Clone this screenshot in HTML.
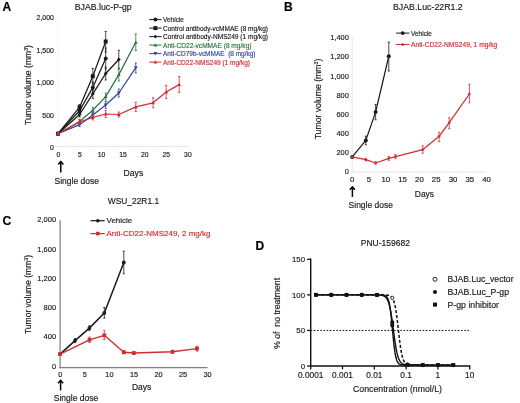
<!DOCTYPE html>
<html lang="en"><head><meta charset="utf-8"><title>Figure</title>
<style>html,body{margin:0;padding:0;background:#fff}svg{display:block}text{white-space:pre;stroke-width:0.16px}</style></head>
<body>
<svg width="520" height="403" viewBox="0 0 520 403" font-family='"Liberation Sans", Arial, Helvetica, sans-serif'>
<rect width="520" height="403" fill="#fff"/>
<g id="panelA">
<text x="2.6" y="11.0" font-size="12" fill="#000" stroke="#000" font-weight="bold">A</text>
<text x="74.7" y="9.8" font-size="8.8" fill="#1a1a1a" stroke="#1a1a1a" textLength="57" lengthAdjust="spacingAndGlyphs">BJAB.luc-P-gp</text>
<line x1="58.00" y1="17.00" x2="58.00" y2="146.80" stroke="#f1f1f1" stroke-width="0.8"/>
<line x1="55.00" y1="146.40" x2="188.50" y2="146.40" stroke="#d4d4d4" stroke-width="0.9" stroke-dasharray="1.4,0.7"/>
<text x="53.8" y="20.0" font-size="6.9" fill="#1a1a1a" stroke="#1a1a1a" text-anchor="end">2,000</text>
<line x1="55.50" y1="17.50" x2="58.00" y2="17.50" stroke="#f1f1f1" stroke-width="0.8"/>
<text x="53.8" y="52.5" font-size="6.9" fill="#1a1a1a" stroke="#1a1a1a" text-anchor="end">1,500</text>
<line x1="55.50" y1="50.00" x2="58.00" y2="50.00" stroke="#f1f1f1" stroke-width="0.8"/>
<text x="53.8" y="85.0" font-size="6.9" fill="#1a1a1a" stroke="#1a1a1a" text-anchor="end">1,000</text>
<line x1="55.50" y1="82.50" x2="58.00" y2="82.50" stroke="#f1f1f1" stroke-width="0.8"/>
<text x="53.8" y="117.5" font-size="6.9" fill="#1a1a1a" stroke="#1a1a1a" text-anchor="end">500</text>
<line x1="55.50" y1="115.00" x2="58.00" y2="115.00" stroke="#f1f1f1" stroke-width="0.8"/>
<text x="53.8" y="149.8" font-size="6.9" fill="#1a1a1a" stroke="#1a1a1a" text-anchor="end">0</text>
<line x1="55.50" y1="147.30" x2="58.00" y2="147.30" stroke="#f1f1f1" stroke-width="0.8"/>
<text x="58.3" y="157.1" font-size="6.8" fill="#1a1a1a" stroke="#1a1a1a" text-anchor="middle">0</text>
<text x="79.9" y="157.1" font-size="6.8" fill="#1a1a1a" stroke="#1a1a1a" text-anchor="middle">5</text>
<text x="101.5" y="157.1" font-size="6.8" fill="#1a1a1a" stroke="#1a1a1a" text-anchor="middle">10</text>
<text x="123.10000000000001" y="157.1" font-size="6.8" fill="#1a1a1a" stroke="#1a1a1a" text-anchor="middle">15</text>
<text x="144.7" y="157.1" font-size="6.8" fill="#1a1a1a" stroke="#1a1a1a" text-anchor="middle">20</text>
<text x="166.3" y="157.1" font-size="6.8" fill="#1a1a1a" stroke="#1a1a1a" text-anchor="middle">25</text>
<text x="187.90000000000003" y="157.1" font-size="6.8" fill="#1a1a1a" stroke="#1a1a1a" text-anchor="middle">30</text>
<text x="30.8" y="85" font-size="8.2" fill="#1a1a1a" stroke="#1a1a1a" text-anchor="middle" textLength="80" lengthAdjust="spacingAndGlyphs" transform="rotate(-90 30.8 85)">Tumor volume (mm<tspan font-size="5" dy="-2.8">3</tspan><tspan dy="2.8">)</tspan></text>
<text x="123.6" y="175.8" font-size="8.6" fill="#1a1a1a" stroke="#1a1a1a" textLength="19.6" lengthAdjust="spacingAndGlyphs">Days</text>
<line x1="60.80" y1="162.00" x2="60.80" y2="172.50" stroke="#000" stroke-width="1.5"/>
<polyline points="58.20,164.40 60.80,161.60 63.40,164.40" fill="none" stroke="#000" stroke-width="1.5" stroke-linejoin="miter"/>
<text x="54.5" y="183.7" font-size="8.5" fill="#1a1a1a" stroke="#1a1a1a" textLength="44.5" lengthAdjust="spacingAndGlyphs">Single dose</text>
<line x1="79.60" y1="104.50" x2="79.60" y2="110.00" stroke="#1a1a1a" stroke-width="0.8"/>
<line x1="78.50" y1="104.50" x2="80.70" y2="104.50" stroke="#1a1a1a" stroke-width="0.8"/>
<line x1="78.50" y1="110.00" x2="80.70" y2="110.00" stroke="#1a1a1a" stroke-width="0.8"/>
<line x1="92.80" y1="68.50" x2="92.80" y2="84.00" stroke="#1a1a1a" stroke-width="0.8"/>
<line x1="91.70" y1="68.50" x2="93.90" y2="68.50" stroke="#1a1a1a" stroke-width="0.8"/>
<line x1="91.70" y1="84.00" x2="93.90" y2="84.00" stroke="#1a1a1a" stroke-width="0.8"/>
<line x1="105.70" y1="31.50" x2="105.70" y2="52.00" stroke="#1a1a1a" stroke-width="0.8"/>
<line x1="104.60" y1="31.50" x2="106.80" y2="31.50" stroke="#1a1a1a" stroke-width="0.8"/>
<line x1="104.60" y1="52.00" x2="106.80" y2="52.00" stroke="#1a1a1a" stroke-width="0.8"/>
<polyline points="58.00,133.70 79.60,107.20 92.80,76.20 105.70,41.50" fill="none" stroke="#1a1a1a" stroke-width="1.25" stroke-linejoin="round"/>
<rect x="56.00" y="131.70" width="4.0" height="4.0" fill="#1a1a1a"/>
<rect x="77.60" y="105.20" width="4.0" height="4.0" fill="#1a1a1a"/>
<rect x="90.80" y="74.20" width="4.0" height="4.0" fill="#1a1a1a"/>
<rect x="103.70" y="39.50" width="4.0" height="4.0" fill="#1a1a1a"/>
<line x1="79.60" y1="108.00" x2="79.60" y2="113.50" stroke="#1a1a1a" stroke-width="0.8"/>
<line x1="78.50" y1="108.00" x2="80.70" y2="108.00" stroke="#1a1a1a" stroke-width="0.8"/>
<line x1="78.50" y1="113.50" x2="80.70" y2="113.50" stroke="#1a1a1a" stroke-width="0.8"/>
<line x1="92.80" y1="82.00" x2="92.80" y2="93.00" stroke="#1a1a1a" stroke-width="0.8"/>
<line x1="91.70" y1="82.00" x2="93.90" y2="82.00" stroke="#1a1a1a" stroke-width="0.8"/>
<line x1="91.70" y1="93.00" x2="93.90" y2="93.00" stroke="#1a1a1a" stroke-width="0.8"/>
<line x1="105.70" y1="48.00" x2="105.70" y2="69.00" stroke="#1a1a1a" stroke-width="0.8"/>
<line x1="104.60" y1="48.00" x2="106.80" y2="48.00" stroke="#1a1a1a" stroke-width="0.8"/>
<line x1="104.60" y1="69.00" x2="106.80" y2="69.00" stroke="#1a1a1a" stroke-width="0.8"/>
<polyline points="58.00,133.70 79.60,110.80 92.80,87.40 105.70,58.50" fill="none" stroke="#1a1a1a" stroke-width="1.25" stroke-linejoin="round"/>
<circle cx="58.00" cy="133.70" r="2.0" fill="#1a1a1a"/>
<circle cx="79.60" cy="110.80" r="2.0" fill="#1a1a1a"/>
<circle cx="92.80" cy="87.40" r="2.0" fill="#1a1a1a"/>
<circle cx="105.70" cy="58.50" r="2.0" fill="#1a1a1a"/>
<line x1="79.60" y1="112.00" x2="79.60" y2="117.00" stroke="#1a1a1a" stroke-width="0.8"/>
<line x1="78.50" y1="112.00" x2="80.70" y2="112.00" stroke="#1a1a1a" stroke-width="0.8"/>
<line x1="78.50" y1="117.00" x2="80.70" y2="117.00" stroke="#1a1a1a" stroke-width="0.8"/>
<line x1="92.80" y1="89.00" x2="92.80" y2="98.50" stroke="#1a1a1a" stroke-width="0.8"/>
<line x1="91.70" y1="89.00" x2="93.90" y2="89.00" stroke="#1a1a1a" stroke-width="0.8"/>
<line x1="91.70" y1="98.50" x2="93.90" y2="98.50" stroke="#1a1a1a" stroke-width="0.8"/>
<line x1="105.70" y1="67.00" x2="105.70" y2="80.00" stroke="#1a1a1a" stroke-width="0.8"/>
<line x1="104.60" y1="67.00" x2="106.80" y2="67.00" stroke="#1a1a1a" stroke-width="0.8"/>
<line x1="104.60" y1="80.00" x2="106.80" y2="80.00" stroke="#1a1a1a" stroke-width="0.8"/>
<line x1="118.80" y1="50.30" x2="118.80" y2="69.00" stroke="#1a1a1a" stroke-width="0.8"/>
<line x1="117.70" y1="50.30" x2="119.90" y2="50.30" stroke="#1a1a1a" stroke-width="0.8"/>
<line x1="117.70" y1="69.00" x2="119.90" y2="69.00" stroke="#1a1a1a" stroke-width="0.8"/>
<polyline points="58.00,133.70 79.60,114.50 92.80,93.80 105.70,73.50 118.80,59.50" fill="none" stroke="#1a1a1a" stroke-width="1.25" stroke-linejoin="round"/>
<polygon points="58.00,131.80 59.90,133.70 58.00,135.60 56.10,133.70" fill="#1a1a1a"/>
<polygon points="79.60,112.60 81.50,114.50 79.60,116.40 77.70,114.50" fill="#1a1a1a"/>
<polygon points="92.80,91.90 94.70,93.80 92.80,95.70 90.90,93.80" fill="#1a1a1a"/>
<polygon points="105.70,71.60 107.60,73.50 105.70,75.40 103.80,73.50" fill="#1a1a1a"/>
<polygon points="118.80,57.60 120.70,59.50 118.80,61.40 116.90,59.50" fill="#1a1a1a"/>
<line x1="79.60" y1="119.50" x2="79.60" y2="123.50" stroke="#2e7443" stroke-width="0.8"/>
<line x1="78.50" y1="119.50" x2="80.70" y2="119.50" stroke="#2e7443" stroke-width="0.8"/>
<line x1="78.50" y1="123.50" x2="80.70" y2="123.50" stroke="#2e7443" stroke-width="0.8"/>
<line x1="92.80" y1="107.50" x2="92.80" y2="113.00" stroke="#2e7443" stroke-width="0.8"/>
<line x1="91.70" y1="107.50" x2="93.90" y2="107.50" stroke="#2e7443" stroke-width="0.8"/>
<line x1="91.70" y1="113.00" x2="93.90" y2="113.00" stroke="#2e7443" stroke-width="0.8"/>
<line x1="105.70" y1="93.00" x2="105.70" y2="100.00" stroke="#2e7443" stroke-width="0.8"/>
<line x1="104.60" y1="93.00" x2="106.80" y2="93.00" stroke="#2e7443" stroke-width="0.8"/>
<line x1="104.60" y1="100.00" x2="106.80" y2="100.00" stroke="#2e7443" stroke-width="0.8"/>
<line x1="118.80" y1="68.00" x2="118.80" y2="81.00" stroke="#2e7443" stroke-width="0.8"/>
<line x1="117.70" y1="68.00" x2="119.90" y2="68.00" stroke="#2e7443" stroke-width="0.8"/>
<line x1="117.70" y1="81.00" x2="119.90" y2="81.00" stroke="#2e7443" stroke-width="0.8"/>
<line x1="135.80" y1="33.80" x2="135.80" y2="50.50" stroke="#2e7443" stroke-width="0.8"/>
<line x1="134.70" y1="33.80" x2="136.90" y2="33.80" stroke="#2e7443" stroke-width="0.8"/>
<line x1="134.70" y1="50.50" x2="136.90" y2="50.50" stroke="#2e7443" stroke-width="0.8"/>
<polyline points="58.00,133.70 79.60,121.50 92.80,110.30 105.70,96.60 118.80,74.60 135.80,42.30" fill="none" stroke="#2e7443" stroke-width="1.25" stroke-linejoin="round"/>
<polygon points="58.00,131.80 59.90,135.22 56.10,135.22" fill="#2e7443"/>
<polygon points="79.60,119.60 81.50,123.02 77.70,123.02" fill="#2e7443"/>
<polygon points="92.80,108.40 94.70,111.82 90.90,111.82" fill="#2e7443"/>
<polygon points="105.70,94.70 107.60,98.12 103.80,98.12" fill="#2e7443"/>
<polygon points="118.80,72.70 120.70,76.12 116.90,76.12" fill="#2e7443"/>
<polygon points="135.80,40.40 137.70,43.82 133.90,43.82" fill="#2e7443"/>
<line x1="79.60" y1="123.00" x2="79.60" y2="126.50" stroke="#36459b" stroke-width="0.8"/>
<line x1="78.50" y1="123.00" x2="80.70" y2="123.00" stroke="#36459b" stroke-width="0.8"/>
<line x1="78.50" y1="126.50" x2="80.70" y2="126.50" stroke="#36459b" stroke-width="0.8"/>
<line x1="92.80" y1="112.50" x2="92.80" y2="117.50" stroke="#36459b" stroke-width="0.8"/>
<line x1="91.70" y1="112.50" x2="93.90" y2="112.50" stroke="#36459b" stroke-width="0.8"/>
<line x1="91.70" y1="117.50" x2="93.90" y2="117.50" stroke="#36459b" stroke-width="0.8"/>
<line x1="105.70" y1="101.50" x2="105.70" y2="108.50" stroke="#36459b" stroke-width="0.8"/>
<line x1="104.60" y1="101.50" x2="106.80" y2="101.50" stroke="#36459b" stroke-width="0.8"/>
<line x1="104.60" y1="108.50" x2="106.80" y2="108.50" stroke="#36459b" stroke-width="0.8"/>
<line x1="118.80" y1="89.00" x2="118.80" y2="97.00" stroke="#36459b" stroke-width="0.8"/>
<line x1="117.70" y1="89.00" x2="119.90" y2="89.00" stroke="#36459b" stroke-width="0.8"/>
<line x1="117.70" y1="97.00" x2="119.90" y2="97.00" stroke="#36459b" stroke-width="0.8"/>
<line x1="135.80" y1="63.00" x2="135.80" y2="73.00" stroke="#36459b" stroke-width="0.8"/>
<line x1="134.70" y1="63.00" x2="136.90" y2="63.00" stroke="#36459b" stroke-width="0.8"/>
<line x1="134.70" y1="73.00" x2="136.90" y2="73.00" stroke="#36459b" stroke-width="0.8"/>
<polyline points="58.00,133.70 79.60,124.70 92.80,115.00 105.70,105.00 118.80,93.00 135.80,67.70" fill="none" stroke="#36459b" stroke-width="1.25" stroke-linejoin="round"/>
<polygon points="58.00,135.60 59.90,132.18 56.10,132.18" fill="#36459b"/>
<polygon points="79.60,126.60 81.50,123.18 77.70,123.18" fill="#36459b"/>
<polygon points="92.80,116.90 94.70,113.48 90.90,113.48" fill="#36459b"/>
<polygon points="105.70,106.90 107.60,103.48 103.80,103.48" fill="#36459b"/>
<polygon points="118.80,94.90 120.70,91.48 116.90,91.48" fill="#36459b"/>
<polygon points="135.80,69.60 137.70,66.18 133.90,66.18" fill="#36459b"/>
<line x1="79.60" y1="120.00" x2="79.60" y2="124.00" stroke="#cf2e32" stroke-width="0.8"/>
<line x1="78.50" y1="120.00" x2="80.70" y2="120.00" stroke="#cf2e32" stroke-width="0.8"/>
<line x1="78.50" y1="124.00" x2="80.70" y2="124.00" stroke="#cf2e32" stroke-width="0.8"/>
<line x1="92.80" y1="115.00" x2="92.80" y2="120.00" stroke="#cf2e32" stroke-width="0.8"/>
<line x1="91.70" y1="115.00" x2="93.90" y2="115.00" stroke="#cf2e32" stroke-width="0.8"/>
<line x1="91.70" y1="120.00" x2="93.90" y2="120.00" stroke="#cf2e32" stroke-width="0.8"/>
<line x1="105.70" y1="110.50" x2="105.70" y2="117.50" stroke="#cf2e32" stroke-width="0.8"/>
<line x1="104.60" y1="110.50" x2="106.80" y2="110.50" stroke="#cf2e32" stroke-width="0.8"/>
<line x1="104.60" y1="117.50" x2="106.80" y2="117.50" stroke="#cf2e32" stroke-width="0.8"/>
<line x1="118.80" y1="112.00" x2="118.80" y2="117.00" stroke="#cf2e32" stroke-width="0.8"/>
<line x1="117.70" y1="112.00" x2="119.90" y2="112.00" stroke="#cf2e32" stroke-width="0.8"/>
<line x1="117.70" y1="117.00" x2="119.90" y2="117.00" stroke="#cf2e32" stroke-width="0.8"/>
<line x1="135.80" y1="102.30" x2="135.80" y2="111.50" stroke="#cf2e32" stroke-width="0.8"/>
<line x1="134.70" y1="102.30" x2="136.90" y2="102.30" stroke="#cf2e32" stroke-width="0.8"/>
<line x1="134.70" y1="111.50" x2="136.90" y2="111.50" stroke="#cf2e32" stroke-width="0.8"/>
<line x1="153.10" y1="97.70" x2="153.10" y2="107.70" stroke="#cf2e32" stroke-width="0.8"/>
<line x1="152.00" y1="97.70" x2="154.20" y2="97.70" stroke="#cf2e32" stroke-width="0.8"/>
<line x1="152.00" y1="107.70" x2="154.20" y2="107.70" stroke="#cf2e32" stroke-width="0.8"/>
<line x1="166.20" y1="85.40" x2="166.20" y2="98.50" stroke="#cf2e32" stroke-width="0.8"/>
<line x1="165.10" y1="85.40" x2="167.30" y2="85.40" stroke="#cf2e32" stroke-width="0.8"/>
<line x1="165.10" y1="98.50" x2="167.30" y2="98.50" stroke="#cf2e32" stroke-width="0.8"/>
<line x1="179.20" y1="76.50" x2="179.20" y2="92.50" stroke="#cf2e32" stroke-width="0.8"/>
<line x1="178.10" y1="76.50" x2="180.30" y2="76.50" stroke="#cf2e32" stroke-width="0.8"/>
<line x1="178.10" y1="92.50" x2="180.30" y2="92.50" stroke="#cf2e32" stroke-width="0.8"/>
<polyline points="58.00,133.70 79.60,122.00 92.80,117.40 105.70,114.00 118.80,114.50 135.80,106.90 153.10,102.80 166.20,92.00 179.20,84.60" fill="none" stroke="#cf2e32" stroke-width="1.25" stroke-linejoin="round"/>
<polygon points="58.00,131.80 59.90,135.22 56.10,135.22" fill="#cf2e32"/>
<polygon points="79.60,120.10 81.50,123.52 77.70,123.52" fill="#cf2e32"/>
<polygon points="92.80,115.50 94.70,118.92 90.90,118.92" fill="#cf2e32"/>
<polygon points="105.70,112.10 107.60,115.52 103.80,115.52" fill="#cf2e32"/>
<polygon points="118.80,112.60 120.70,116.02 116.90,116.02" fill="#cf2e32"/>
<polygon points="135.80,105.00 137.70,108.42 133.90,108.42" fill="#cf2e32"/>
<polygon points="153.10,100.90 155.00,104.32 151.20,104.32" fill="#cf2e32"/>
<polygon points="166.20,90.10 168.10,93.52 164.30,93.52" fill="#cf2e32"/>
<polygon points="179.20,82.70 181.10,86.12 177.30,86.12" fill="#cf2e32"/>
<line x1="149.20" y1="19.60" x2="161.50" y2="19.60" stroke="#1a1a1a" stroke-width="1.0"/>
<circle cx="155.40" cy="19.60" r="2.0" fill="#1a1a1a"/>
<text x="163.0" y="22.0" font-size="6.9" fill="#1a1a1a" stroke="#1a1a1a" textLength="21.0" lengthAdjust="spacingAndGlyphs">Vehicle</text>
<line x1="149.20" y1="28.10" x2="161.50" y2="28.10" stroke="#1a1a1a" stroke-width="1.0"/>
<rect x="153.40" y="26.10" width="4.0" height="4.0" fill="#1a1a1a"/>
<text x="163.0" y="30.5" font-size="6.9" fill="#1a1a1a" stroke="#1a1a1a" textLength="105.0" lengthAdjust="spacingAndGlyphs">Control antibody-vcMMAE (8 mg/kg)</text>
<line x1="149.20" y1="36.60" x2="161.50" y2="36.60" stroke="#1a1a1a" stroke-width="1.0"/>
<polygon points="155.40,34.70 157.30,36.60 155.40,38.50 153.50,36.60" fill="#1a1a1a"/>
<text x="163.0" y="39.0" font-size="6.9" fill="#1a1a1a" stroke="#1a1a1a" textLength="105.0" lengthAdjust="spacingAndGlyphs">Control antibody-NMS249 (1 mg/kg)</text>
<line x1="149.20" y1="45.10" x2="161.50" y2="45.10" stroke="#2e7443" stroke-width="1.0"/>
<polygon points="155.40,43.20 157.30,46.62 153.50,46.62" fill="#2e7443"/>
<text x="163.0" y="47.5" font-size="6.9" fill="#2e7443" stroke="#2e7443" textLength="88.5" lengthAdjust="spacingAndGlyphs">Anti-CD22-vcMMAE (8 mg/kg)</text>
<line x1="149.20" y1="53.60" x2="161.50" y2="53.60" stroke="#36459b" stroke-width="1.0"/>
<polygon points="155.40,55.50 157.30,52.08 153.50,52.08" fill="#36459b"/>
<text x="163.0" y="56.0" font-size="6.9" fill="#36459b" stroke="#36459b" textLength="92.5" lengthAdjust="spacingAndGlyphs">Anti-CD79b-vcMMAE  (8 mg/kg)</text>
<line x1="149.20" y1="62.10" x2="161.50" y2="62.10" stroke="#cf2e32" stroke-width="1.0"/>
<polygon points="155.40,60.20 157.30,63.62 153.50,63.62" fill="#cf2e32"/>
<text x="163.0" y="64.5" font-size="6.9" fill="#cf2e32" stroke="#cf2e32" textLength="87.0" lengthAdjust="spacingAndGlyphs">Anti-CD22-NMS249 (1 mg/kg)</text>
</g>
<g id="panelB">
<text x="284.0" y="10.9" font-size="12" fill="#000" stroke="#000" font-weight="bold">B</text>
<text x="393" y="10.4" font-size="8.7" fill="#1a1a1a" stroke="#1a1a1a" textLength="69.7" lengthAdjust="spacingAndGlyphs">BJAB.Luc-22R1.2</text>
<line x1="352.20" y1="37.70" x2="352.20" y2="172.00" stroke="#d4d4d4" stroke-width="0.9" stroke-dasharray="1.4,0.7"/>
<line x1="352.20" y1="172.00" x2="486.70" y2="172.00" stroke="#d4d4d4" stroke-width="0.9" stroke-dasharray="1.4,0.7"/>
<text x="348.8" y="174.2" font-size="7.4" fill="#1a1a1a" stroke="#1a1a1a" text-anchor="end">0</text>
<text x="348.8" y="155.06" font-size="7.4" fill="#1a1a1a" stroke="#1a1a1a" text-anchor="end">200</text>
<text x="348.8" y="135.92" font-size="7.4" fill="#1a1a1a" stroke="#1a1a1a" text-anchor="end">400</text>
<text x="348.8" y="116.78000000000002" font-size="7.4" fill="#1a1a1a" stroke="#1a1a1a" text-anchor="end">600</text>
<text x="348.8" y="97.64000000000001" font-size="7.4" fill="#1a1a1a" stroke="#1a1a1a" text-anchor="end">800</text>
<text x="348.8" y="78.50000000000001" font-size="7.4" fill="#1a1a1a" stroke="#1a1a1a" text-anchor="end">1,000</text>
<text x="348.8" y="59.360000000000014" font-size="7.4" fill="#1a1a1a" stroke="#1a1a1a" text-anchor="end">1,200</text>
<text x="348.8" y="40.22000000000001" font-size="7.4" fill="#1a1a1a" stroke="#1a1a1a" text-anchor="end">1,400</text>
<text x="352.2" y="182.4" font-size="7.8" fill="#1a1a1a" stroke="#1a1a1a" text-anchor="middle">0</text>
<text x="369.0" y="182.4" font-size="7.8" fill="#1a1a1a" stroke="#1a1a1a" text-anchor="middle">5</text>
<text x="385.8" y="182.4" font-size="7.8" fill="#1a1a1a" stroke="#1a1a1a" text-anchor="middle">10</text>
<text x="402.59999999999997" y="182.4" font-size="7.8" fill="#1a1a1a" stroke="#1a1a1a" text-anchor="middle">15</text>
<text x="419.4" y="182.4" font-size="7.8" fill="#1a1a1a" stroke="#1a1a1a" text-anchor="middle">20</text>
<text x="436.2" y="182.4" font-size="7.8" fill="#1a1a1a" stroke="#1a1a1a" text-anchor="middle">25</text>
<text x="453.0" y="182.4" font-size="7.8" fill="#1a1a1a" stroke="#1a1a1a" text-anchor="middle">30</text>
<text x="469.79999999999995" y="182.4" font-size="7.8" fill="#1a1a1a" stroke="#1a1a1a" text-anchor="middle">35</text>
<text x="486.6" y="182.4" font-size="7.8" fill="#1a1a1a" stroke="#1a1a1a" text-anchor="middle">40</text>
<text x="321.3" y="99" font-size="8.2" fill="#1a1a1a" stroke="#1a1a1a" text-anchor="middle" textLength="80.7" lengthAdjust="spacingAndGlyphs" transform="rotate(-90 321.3 99)">Tumor volume (mm<tspan font-size="5" dy="-2.8">3</tspan><tspan dy="2.8">)</tspan></text>
<text x="414.8" y="196.8" font-size="8.6" fill="#1a1a1a" stroke="#1a1a1a" textLength="19.2" lengthAdjust="spacingAndGlyphs">Days</text>
<line x1="352.40" y1="187.30" x2="352.40" y2="196.90" stroke="#000" stroke-width="1.5"/>
<polyline points="349.80,189.70 352.40,186.90 355.00,189.70" fill="none" stroke="#000" stroke-width="1.5" stroke-linejoin="miter"/>
<text x="348.6" y="207.8" font-size="8.5" fill="#1a1a1a" stroke="#1a1a1a" textLength="44.3" lengthAdjust="spacingAndGlyphs">Single dose</text>
<line x1="365.80" y1="136.20" x2="365.80" y2="144.80" stroke="#1a1a1a" stroke-width="0.8"/>
<line x1="364.70" y1="136.20" x2="366.90" y2="136.20" stroke="#1a1a1a" stroke-width="0.8"/>
<line x1="364.70" y1="144.80" x2="366.90" y2="144.80" stroke="#1a1a1a" stroke-width="0.8"/>
<line x1="375.60" y1="104.40" x2="375.60" y2="119.80" stroke="#1a1a1a" stroke-width="0.8"/>
<line x1="374.50" y1="104.40" x2="376.70" y2="104.40" stroke="#1a1a1a" stroke-width="0.8"/>
<line x1="374.50" y1="119.80" x2="376.70" y2="119.80" stroke="#1a1a1a" stroke-width="0.8"/>
<line x1="388.80" y1="42.10" x2="388.80" y2="71.00" stroke="#1a1a1a" stroke-width="0.8"/>
<line x1="387.70" y1="42.10" x2="389.90" y2="42.10" stroke="#1a1a1a" stroke-width="0.8"/>
<line x1="387.70" y1="71.00" x2="389.90" y2="71.00" stroke="#1a1a1a" stroke-width="0.8"/>
<polyline points="352.20,156.90 365.80,140.40 375.60,112.10 388.80,56.20" fill="none" stroke="#1a1a1a" stroke-width="1.25" stroke-linejoin="round"/>
<circle cx="352.20" cy="156.90" r="2.0" fill="#1a1a1a"/>
<circle cx="365.80" cy="140.40" r="2.0" fill="#1a1a1a"/>
<circle cx="375.60" cy="112.10" r="2.0" fill="#1a1a1a"/>
<circle cx="388.80" cy="56.20" r="2.0" fill="#1a1a1a"/>
<line x1="365.80" y1="158.30" x2="365.80" y2="160.90" stroke="#cf2e32" stroke-width="0.8"/>
<line x1="364.70" y1="158.30" x2="366.90" y2="158.30" stroke="#cf2e32" stroke-width="0.8"/>
<line x1="364.70" y1="160.90" x2="366.90" y2="160.90" stroke="#cf2e32" stroke-width="0.8"/>
<line x1="375.60" y1="161.80" x2="375.60" y2="164.20" stroke="#cf2e32" stroke-width="0.8"/>
<line x1="374.50" y1="161.80" x2="376.70" y2="161.80" stroke="#cf2e32" stroke-width="0.8"/>
<line x1="374.50" y1="164.20" x2="376.70" y2="164.20" stroke="#cf2e32" stroke-width="0.8"/>
<line x1="388.80" y1="156.30" x2="388.80" y2="160.30" stroke="#cf2e32" stroke-width="0.8"/>
<line x1="387.70" y1="156.30" x2="389.90" y2="156.30" stroke="#cf2e32" stroke-width="0.8"/>
<line x1="387.70" y1="160.30" x2="389.90" y2="160.30" stroke="#cf2e32" stroke-width="0.8"/>
<line x1="395.50" y1="154.60" x2="395.50" y2="158.60" stroke="#cf2e32" stroke-width="0.8"/>
<line x1="394.40" y1="154.60" x2="396.60" y2="154.60" stroke="#cf2e32" stroke-width="0.8"/>
<line x1="394.40" y1="158.60" x2="396.60" y2="158.60" stroke="#cf2e32" stroke-width="0.8"/>
<line x1="422.70" y1="145.90" x2="422.70" y2="153.20" stroke="#cf2e32" stroke-width="0.8"/>
<line x1="421.60" y1="145.90" x2="423.80" y2="145.90" stroke="#cf2e32" stroke-width="0.8"/>
<line x1="421.60" y1="153.20" x2="423.80" y2="153.20" stroke="#cf2e32" stroke-width="0.8"/>
<line x1="439.10" y1="132.20" x2="439.10" y2="141.50" stroke="#cf2e32" stroke-width="0.8"/>
<line x1="438.00" y1="132.20" x2="440.20" y2="132.20" stroke="#cf2e32" stroke-width="0.8"/>
<line x1="438.00" y1="141.50" x2="440.20" y2="141.50" stroke="#cf2e32" stroke-width="0.8"/>
<line x1="449.20" y1="117.80" x2="449.20" y2="128.70" stroke="#cf2e32" stroke-width="0.8"/>
<line x1="448.10" y1="117.80" x2="450.30" y2="117.80" stroke="#cf2e32" stroke-width="0.8"/>
<line x1="448.10" y1="128.70" x2="450.30" y2="128.70" stroke="#cf2e32" stroke-width="0.8"/>
<line x1="469.40" y1="84.20" x2="469.40" y2="102.80" stroke="#cf2e32" stroke-width="0.8"/>
<line x1="468.30" y1="84.20" x2="470.50" y2="84.20" stroke="#cf2e32" stroke-width="0.8"/>
<line x1="468.30" y1="102.80" x2="470.50" y2="102.80" stroke="#cf2e32" stroke-width="0.8"/>
<polyline points="352.20,156.90 365.80,159.60 375.60,163.00 388.80,158.30 395.50,156.60 422.70,149.70 439.10,136.30 449.20,122.70 469.40,94.00" fill="none" stroke="#cf2e32" stroke-width="1.25" stroke-linejoin="round"/>
<circle cx="352.20" cy="156.90" r="1.3" fill="#cf2e32"/>
<circle cx="365.80" cy="159.60" r="1.3" fill="#cf2e32"/>
<circle cx="375.60" cy="163.00" r="1.3" fill="#cf2e32"/>
<circle cx="388.80" cy="158.30" r="1.3" fill="#cf2e32"/>
<circle cx="395.50" cy="156.60" r="1.3" fill="#cf2e32"/>
<circle cx="422.70" cy="149.70" r="1.3" fill="#cf2e32"/>
<circle cx="439.10" cy="136.30" r="1.3" fill="#cf2e32"/>
<circle cx="449.20" cy="122.70" r="1.3" fill="#cf2e32"/>
<circle cx="469.40" cy="94.00" r="1.3" fill="#cf2e32"/>
<line x1="395.90" y1="33.10" x2="409.50" y2="33.10" stroke="#1a1a1a" stroke-width="1.0"/>
<circle cx="402.70" cy="33.10" r="1.9" fill="#1a1a1a"/>
<text x="411" y="35.6" font-size="7" fill="#1a1a1a" stroke="#1a1a1a" textLength="21" lengthAdjust="spacingAndGlyphs">Vehicle</text>
<line x1="395.90" y1="44.50" x2="409.50" y2="44.50" stroke="#cf2e32" stroke-width="1.0"/>
<circle cx="402.70" cy="44.50" r="1.3" fill="#a3262b"/>
<text x="411" y="47.0" font-size="7" fill="#cf2e32" stroke="#cf2e32" textLength="86.3" lengthAdjust="spacingAndGlyphs">Anti-CD22-NMS249, 1 mg/kg</text>
</g>
<g id="panelC">
<text x="2.4" y="224.7" font-size="12.2" fill="#000" stroke="#000" font-weight="bold">C</text>
<text x="107.8" y="203.8" font-size="8.8" fill="#1a1a1a" stroke="#1a1a1a" textLength="51.3" lengthAdjust="spacingAndGlyphs">WSU_22R1.1</text>
<line x1="60.10" y1="220.30" x2="60.10" y2="368.20" stroke="#7d7d7d" stroke-width="1.2"/>
<line x1="59.50" y1="367.60" x2="207.50" y2="367.60" stroke="#7d7d7d" stroke-width="1.2"/>
<text x="56.1" y="368.8" font-size="7.5" fill="#1a1a1a" stroke="#1a1a1a" text-anchor="end">0</text>
<text x="56.1" y="339.47999999999996" font-size="7.5" fill="#1a1a1a" stroke="#1a1a1a" text-anchor="end">400</text>
<text x="56.1" y="310.16" font-size="7.5" fill="#1a1a1a" stroke="#1a1a1a" text-anchor="end">800</text>
<text x="56.1" y="280.84" font-size="7.5" fill="#1a1a1a" stroke="#1a1a1a" text-anchor="end">1,200</text>
<text x="56.1" y="251.51999999999998" font-size="7.5" fill="#1a1a1a" stroke="#1a1a1a" text-anchor="end">1,600</text>
<text x="56.1" y="222.2" font-size="7.5" fill="#1a1a1a" stroke="#1a1a1a" text-anchor="end">2,000</text>
<text x="60.300000000000004" y="377.0" font-size="7.3" fill="#1a1a1a" stroke="#1a1a1a" text-anchor="middle">0</text>
<text x="84.85000000000001" y="377.0" font-size="7.3" fill="#1a1a1a" stroke="#1a1a1a" text-anchor="middle">5</text>
<text x="109.4" y="377.0" font-size="7.3" fill="#1a1a1a" stroke="#1a1a1a" text-anchor="middle">10</text>
<text x="133.95" y="377.0" font-size="7.3" fill="#1a1a1a" stroke="#1a1a1a" text-anchor="middle">15</text>
<text x="158.5" y="377.0" font-size="7.3" fill="#1a1a1a" stroke="#1a1a1a" text-anchor="middle">20</text>
<text x="183.04999999999998" y="377.0" font-size="7.3" fill="#1a1a1a" stroke="#1a1a1a" text-anchor="middle">25</text>
<text x="207.6" y="377.0" font-size="7.3" fill="#1a1a1a" stroke="#1a1a1a" text-anchor="middle">30</text>
<text x="31.4" y="294.5" font-size="8.3" fill="#1a1a1a" stroke="#1a1a1a" text-anchor="middle" textLength="79" lengthAdjust="spacingAndGlyphs" transform="rotate(-90 31.4 294.5)">Tumor volume (mm<tspan font-size="5.2" dy="-2.9">3</tspan><tspan dy="2.9">)</tspan></text>
<text x="132" y="390" font-size="8.6" fill="#1a1a1a" stroke="#1a1a1a" textLength="19.3" lengthAdjust="spacingAndGlyphs">Days</text>
<line x1="60.60" y1="380.80" x2="60.60" y2="390.40" stroke="#000" stroke-width="1.5"/>
<polyline points="58.00,383.20 60.60,380.40 63.20,383.20" fill="none" stroke="#000" stroke-width="1.5" stroke-linejoin="miter"/>
<text x="53.7" y="400.8" font-size="8.6" fill="#1a1a1a" stroke="#1a1a1a" textLength="44.6" lengthAdjust="spacingAndGlyphs">Single dose</text>
<line x1="75.00" y1="338.60" x2="75.00" y2="342.60" stroke="#1a1a1a" stroke-width="0.8"/>
<line x1="73.90" y1="338.60" x2="76.10" y2="338.60" stroke="#1a1a1a" stroke-width="0.8"/>
<line x1="73.90" y1="342.60" x2="76.10" y2="342.60" stroke="#1a1a1a" stroke-width="0.8"/>
<line x1="89.40" y1="325.60" x2="89.40" y2="330.60" stroke="#1a1a1a" stroke-width="0.8"/>
<line x1="88.30" y1="325.60" x2="90.50" y2="325.60" stroke="#1a1a1a" stroke-width="0.8"/>
<line x1="88.30" y1="330.60" x2="90.50" y2="330.60" stroke="#1a1a1a" stroke-width="0.8"/>
<line x1="104.30" y1="307.50" x2="104.30" y2="318.20" stroke="#1a1a1a" stroke-width="0.8"/>
<line x1="103.20" y1="307.50" x2="105.40" y2="307.50" stroke="#1a1a1a" stroke-width="0.8"/>
<line x1="103.20" y1="318.20" x2="105.40" y2="318.20" stroke="#1a1a1a" stroke-width="0.8"/>
<line x1="123.80" y1="251.20" x2="123.80" y2="273.80" stroke="#1a1a1a" stroke-width="0.8"/>
<line x1="122.70" y1="251.20" x2="124.90" y2="251.20" stroke="#1a1a1a" stroke-width="0.8"/>
<line x1="122.70" y1="273.80" x2="124.90" y2="273.80" stroke="#1a1a1a" stroke-width="0.8"/>
<polyline points="60.10,354.10 75.00,340.60 89.40,328.10 104.30,313.00 123.80,262.50" fill="none" stroke="#1a1a1a" stroke-width="1.5" stroke-linejoin="round"/>
<circle cx="60.10" cy="354.10" r="1.9" fill="#1a1a1a"/>
<circle cx="75.00" cy="340.60" r="1.9" fill="#1a1a1a"/>
<circle cx="89.40" cy="328.10" r="1.9" fill="#1a1a1a"/>
<circle cx="104.30" cy="313.00" r="1.9" fill="#1a1a1a"/>
<circle cx="123.80" cy="262.50" r="1.9" fill="#1a1a1a"/>
<line x1="89.50" y1="337.00" x2="89.50" y2="342.60" stroke="#cf2e32" stroke-width="0.8"/>
<line x1="88.40" y1="337.00" x2="90.60" y2="337.00" stroke="#cf2e32" stroke-width="0.8"/>
<line x1="88.40" y1="342.60" x2="90.60" y2="342.60" stroke="#cf2e32" stroke-width="0.8"/>
<line x1="104.30" y1="330.50" x2="104.30" y2="339.50" stroke="#cf2e32" stroke-width="0.8"/>
<line x1="103.20" y1="330.50" x2="105.40" y2="330.50" stroke="#cf2e32" stroke-width="0.8"/>
<line x1="103.20" y1="339.50" x2="105.40" y2="339.50" stroke="#cf2e32" stroke-width="0.8"/>
<line x1="123.80" y1="350.70" x2="123.80" y2="353.70" stroke="#cf2e32" stroke-width="0.8"/>
<line x1="122.70" y1="350.70" x2="124.90" y2="350.70" stroke="#cf2e32" stroke-width="0.8"/>
<line x1="122.70" y1="353.70" x2="124.90" y2="353.70" stroke="#cf2e32" stroke-width="0.8"/>
<line x1="133.80" y1="351.80" x2="133.80" y2="354.20" stroke="#cf2e32" stroke-width="0.8"/>
<line x1="132.70" y1="351.80" x2="134.90" y2="351.80" stroke="#cf2e32" stroke-width="0.8"/>
<line x1="132.70" y1="354.20" x2="134.90" y2="354.20" stroke="#cf2e32" stroke-width="0.8"/>
<line x1="172.50" y1="350.30" x2="172.50" y2="353.30" stroke="#cf2e32" stroke-width="0.8"/>
<line x1="171.40" y1="350.30" x2="173.60" y2="350.30" stroke="#cf2e32" stroke-width="0.8"/>
<line x1="171.40" y1="353.30" x2="173.60" y2="353.30" stroke="#cf2e32" stroke-width="0.8"/>
<line x1="197.00" y1="346.10" x2="197.00" y2="351.10" stroke="#cf2e32" stroke-width="0.8"/>
<line x1="195.90" y1="346.10" x2="198.10" y2="346.10" stroke="#cf2e32" stroke-width="0.8"/>
<line x1="195.90" y1="351.10" x2="198.10" y2="351.10" stroke="#cf2e32" stroke-width="0.8"/>
<polyline points="60.10,354.10 89.50,339.80 104.30,335.30 123.80,352.20 133.80,353.00 172.50,351.80 197.00,348.60" fill="none" stroke="#cf2e32" stroke-width="1.4" stroke-linejoin="round"/>
<rect x="58.20" y="352.20" width="3.8" height="3.8" fill="#cf2e32"/>
<rect x="87.60" y="337.90" width="3.8" height="3.8" fill="#cf2e32"/>
<rect x="102.40" y="333.40" width="3.8" height="3.8" fill="#cf2e32"/>
<rect x="121.90" y="350.30" width="3.8" height="3.8" fill="#cf2e32"/>
<rect x="131.90" y="351.10" width="3.8" height="3.8" fill="#cf2e32"/>
<rect x="170.60" y="349.90" width="3.8" height="3.8" fill="#cf2e32"/>
<rect x="195.10" y="346.70" width="3.8" height="3.8" fill="#cf2e32"/>
<line x1="90.50" y1="220.70" x2="104.70" y2="220.70" stroke="#1a1a1a" stroke-width="1.2"/>
<circle cx="97.80" cy="220.70" r="1.8" fill="#1a1a1a"/>
<text x="106.5" y="223.4" font-size="8" fill="#1a1a1a" stroke="#1a1a1a" textLength="25.7" lengthAdjust="spacingAndGlyphs">Vehicle</text>
<line x1="90.50" y1="233.60" x2="104.70" y2="233.60" stroke="#cf2e32" stroke-width="1.2"/>
<rect x="96.00" y="231.80" width="3.6" height="3.6" fill="#cf2e32"/>
<text x="106.5" y="236.3" font-size="8" fill="#cf2e32" stroke="#cf2e32" textLength="104" lengthAdjust="spacingAndGlyphs">Anti-CD22-NMS249, 2 mg/kg</text>
</g>
<g id="panelD">
<text x="255.6" y="250.3" font-size="12" fill="#000" stroke="#000" font-weight="bold">D</text>
<text x="360.8" y="245.6" font-size="8.5" fill="#1a1a1a" stroke="#1a1a1a" textLength="49.2" lengthAdjust="spacingAndGlyphs">PNU-159682</text>
<line x1="310.70" y1="258.61" x2="310.70" y2="366.70" stroke="#111" stroke-width="1.4"/>
<line x1="310.00" y1="366.00" x2="470.40" y2="366.00" stroke="#111" stroke-width="1.4"/>
<line x1="307.10" y1="366.00" x2="310.70" y2="366.00" stroke="#111" stroke-width="1.3"/>
<text x="305.0" y="368.7" font-size="7.8" fill="#1a1a1a" stroke="#1a1a1a" text-anchor="end">0</text>
<line x1="307.10" y1="330.44" x2="310.70" y2="330.44" stroke="#111" stroke-width="1.3"/>
<text x="305.0" y="333.135" font-size="7.8" fill="#1a1a1a" stroke="#1a1a1a" text-anchor="end">50</text>
<line x1="307.10" y1="294.87" x2="310.70" y2="294.87" stroke="#111" stroke-width="1.3"/>
<text x="305.0" y="297.57" font-size="7.8" fill="#1a1a1a" stroke="#1a1a1a" text-anchor="end">100</text>
<line x1="307.10" y1="259.31" x2="310.70" y2="259.31" stroke="#111" stroke-width="1.3"/>
<text x="305.0" y="262.005" font-size="7.8" fill="#1a1a1a" stroke="#1a1a1a" text-anchor="end">150</text>
<line x1="310.70" y1="366.00" x2="310.70" y2="369.40" stroke="#111" stroke-width="1.3"/>
<text x="310.7" y="377.5" font-size="8.3" fill="#1a1a1a" stroke="#1a1a1a" text-anchor="middle">0.0001</text>
<line x1="342.50" y1="366.00" x2="342.50" y2="369.40" stroke="#111" stroke-width="1.3"/>
<text x="342.5" y="377.5" font-size="8.3" fill="#1a1a1a" stroke="#1a1a1a" text-anchor="middle">0.001</text>
<line x1="374.30" y1="366.00" x2="374.30" y2="369.40" stroke="#111" stroke-width="1.3"/>
<text x="374.3" y="377.5" font-size="8.3" fill="#1a1a1a" stroke="#1a1a1a" text-anchor="middle">0.01</text>
<line x1="406.10" y1="366.00" x2="406.10" y2="369.40" stroke="#111" stroke-width="1.3"/>
<text x="406.1" y="377.5" font-size="8.3" fill="#1a1a1a" stroke="#1a1a1a" text-anchor="middle">0.1</text>
<line x1="437.90" y1="366.00" x2="437.90" y2="369.40" stroke="#111" stroke-width="1.3"/>
<text x="437.9" y="377.5" font-size="8.3" fill="#1a1a1a" stroke="#1a1a1a" text-anchor="middle">1</text>
<line x1="469.70" y1="366.00" x2="469.70" y2="369.40" stroke="#111" stroke-width="1.3"/>
<text x="469.7" y="377.5" font-size="8.3" fill="#1a1a1a" stroke="#1a1a1a" text-anchor="middle">10</text>
<text x="353" y="392.1" font-size="8.8" fill="#1a1a1a" stroke="#1a1a1a" textLength="89" lengthAdjust="spacingAndGlyphs">Concentration (nmol/L)</text>
<text x="280.5" y="313.4" font-size="8.6" fill="#1a1a1a" stroke="#1a1a1a" text-anchor="middle" textLength="71" lengthAdjust="spacingAndGlyphs" transform="rotate(-90 280.5 313.4)">% of  no treatment</text>
<line x1="310.70" y1="330.44" x2="469.70" y2="330.44" stroke="#111" stroke-width="1.0" stroke-dasharray="1.6,1.6"/>
<polyline points="316.00,294.87 320.00,294.87 324.00,294.87 328.00,294.87 332.00,294.87 336.00,294.87 340.00,294.87 344.00,294.87 348.00,294.87 352.00,294.87 356.00,294.87 360.00,294.87 364.00,294.87 368.00,294.87 372.00,294.87 376.00,294.87 380.00,294.88 380.50,294.88 381.00,294.88 381.50,294.88 382.00,294.89 382.50,294.89 383.00,294.90 383.50,294.91 384.00,294.92 384.50,294.93 385.00,294.95 385.50,294.97 386.00,295.00 386.50,295.04 387.00,295.09 387.50,295.15 388.00,295.23 388.50,295.33 389.00,295.46 389.50,295.63 390.00,295.85 390.50,296.13 391.00,296.48 391.50,296.93 392.00,297.51 392.50,298.23 393.00,299.14 393.50,300.28 394.00,301.69 394.50,303.41 395.00,305.50 395.50,308.00 396.00,310.92 396.50,314.27 397.00,318.02 397.50,322.10 398.00,326.43 398.50,330.86 399.00,335.27 399.50,339.51 400.00,343.47 400.50,347.07 401.00,350.25 401.50,353.00 402.00,355.33 402.50,357.27 403.00,358.86 403.50,360.15 404.00,361.19 404.50,362.03 405.00,362.68 405.50,363.21 406.00,363.62 406.50,363.94 407.00,364.19 407.50,364.39 408.00,364.54 408.50,364.66 409.00,364.75 409.50,364.82 410.00,364.88 410.50,364.92 411.00,364.96 411.50,364.98 412.00,365.00 416.00,365.07 420.00,365.07 424.00,365.08 428.00,365.08 432.00,365.08 436.00,365.08 440.00,365.08 444.00,365.08 448.00,365.08 452.00,365.08 453.20,365.08" fill="none" stroke="#111" stroke-width="1.5" stroke-linejoin="round" stroke-dasharray="3.1,1.9"/>
<polyline points="316.00,294.87 320.00,294.87 324.00,294.87 328.00,294.87 332.00,294.87 336.00,294.87 340.00,294.87 344.00,294.87 348.00,294.87 352.00,294.87 356.00,294.87 360.00,294.87 364.00,294.87 368.00,294.87 372.00,294.87 376.00,294.87 380.00,294.90 380.50,294.91 381.00,294.93 381.50,294.95 382.00,294.98 382.50,295.02 383.00,295.07 383.50,295.14 384.00,295.24 384.50,295.38 385.00,295.56 385.50,295.80 386.00,296.13 386.50,296.58 387.00,297.17 387.50,297.96 388.00,299.01 388.50,300.39 389.00,302.17 389.50,304.44 390.00,307.28 390.50,310.74 391.00,314.83 391.50,319.50 392.00,324.61 392.50,329.97 393.00,335.33 393.50,340.45 394.00,345.12 394.50,349.21 395.00,352.67 395.50,355.51 396.00,357.78 396.50,359.56 397.00,360.93 397.50,361.98 398.00,362.78 398.50,363.37 399.00,363.81 399.50,364.14 400.00,364.39 400.50,364.57 401.00,364.70 401.50,364.80 402.00,364.87 402.50,364.93 403.00,364.97 403.50,364.99 404.00,365.02 404.50,365.03 405.00,365.04 405.50,365.05 406.00,365.06 406.50,365.06 407.00,365.07 407.50,365.07 408.00,365.07 408.50,365.07 409.00,365.07 409.50,365.07 410.00,365.07 410.50,365.07 411.00,365.07 411.50,365.07 412.00,365.07 416.00,365.08 420.00,365.08 424.00,365.08 428.00,365.08 432.00,365.08 436.00,365.08 440.00,365.08 444.00,365.08 448.00,365.08 452.00,365.08 453.20,365.08" fill="none" stroke="#111" stroke-width="1.4" stroke-linejoin="round"/>
<polyline points="316.00,294.87 320.00,294.87 324.00,294.87 328.00,294.87 332.00,294.87 336.00,294.87 340.00,294.87 344.00,294.87 348.00,294.87 352.00,294.87 356.00,294.87 360.00,294.87 364.00,294.87 368.00,294.87 372.00,294.88 376.00,294.91 380.00,295.08 380.50,295.13 381.00,295.19 381.50,295.27 382.00,295.36 382.50,295.48 383.00,295.63 383.50,295.81 384.00,296.03 384.50,296.31 385.00,296.65 385.50,297.07 386.00,297.58 386.50,298.21 387.00,298.97 387.50,299.89 388.00,301.00 388.50,302.33 389.00,303.91 389.50,305.77 390.00,307.92 390.50,310.38 391.00,313.17 391.50,316.26 392.00,319.61 392.50,323.20 393.00,326.93 393.50,330.74 394.00,334.52 394.50,338.20 395.00,341.70 395.50,344.96 396.00,347.93 396.50,350.59 397.00,352.92 397.50,354.96 398.00,356.70 398.50,358.17 399.00,359.41 399.50,360.44 400.00,361.30 400.50,362.00 401.00,362.58 401.50,363.06 402.00,363.44 402.50,363.75 403.00,364.01 403.50,364.21 404.00,364.38 404.50,364.51 405.00,364.62 405.50,364.71 406.00,364.78 406.50,364.84 407.00,364.89 407.50,364.92 408.00,364.95 408.50,364.98 409.00,365.00 409.50,365.01 410.00,365.02 410.50,365.03 411.00,365.04 411.50,365.05 412.00,365.05 416.00,365.07 420.00,365.07 424.00,365.08 428.00,365.08 432.00,365.08 436.00,365.08 440.00,365.08 444.00,365.08 448.00,365.08 452.00,365.08 453.20,365.08" fill="none" stroke="#111" stroke-width="1.4" stroke-linejoin="round"/>
<circle cx="316.00" cy="294.87" r="1.6" fill="#fff" stroke="#111" stroke-width="0.9"/>
<circle cx="331.25" cy="294.87" r="1.6" fill="#fff" stroke="#111" stroke-width="0.9"/>
<circle cx="346.50" cy="294.87" r="1.6" fill="#fff" stroke="#111" stroke-width="0.9"/>
<circle cx="361.75" cy="294.87" r="1.6" fill="#fff" stroke="#111" stroke-width="0.9"/>
<circle cx="377.00" cy="294.87" r="1.6" fill="#fff" stroke="#111" stroke-width="0.9"/>
<circle cx="392.25" cy="297.85" r="1.6" fill="#fff" stroke="#111" stroke-width="0.9"/>
<circle cx="407.50" cy="364.39" r="1.6" fill="#fff" stroke="#111" stroke-width="0.9"/>
<circle cx="422.75" cy="365.08" r="1.6" fill="#fff" stroke="#111" stroke-width="0.9"/>
<circle cx="438.00" cy="365.08" r="1.6" fill="#fff" stroke="#111" stroke-width="0.9"/>
<circle cx="453.25" cy="365.08" r="1.6" fill="#fff" stroke="#111" stroke-width="0.9"/>
<circle cx="316.00" cy="294.87" r="2.0" fill="#111"/>
<rect x="314.10" y="292.97" width="3.8" height="3.8" fill="#111"/>
<circle cx="331.25" cy="294.87" r="2.0" fill="#111"/>
<rect x="329.35" y="292.97" width="3.8" height="3.8" fill="#111"/>
<circle cx="346.50" cy="294.87" r="2.0" fill="#111"/>
<rect x="344.60" y="292.97" width="3.8" height="3.8" fill="#111"/>
<circle cx="361.75" cy="294.87" r="2.0" fill="#111"/>
<rect x="359.85" y="292.97" width="3.8" height="3.8" fill="#111"/>
<circle cx="377.00" cy="294.88" r="2.0" fill="#111"/>
<rect x="375.10" y="293.03" width="3.8" height="3.8" fill="#111"/>
<circle cx="392.25" cy="325.60" r="2.0" fill="#111"/>
<rect x="390.35" y="320.70" width="3.8" height="3.8" fill="#111"/>
<circle cx="407.50" cy="365.07" r="2.0" fill="#111"/>
<rect x="405.60" y="363.02" width="3.8" height="3.8" fill="#111"/>
<circle cx="422.75" cy="365.08" r="2.0" fill="#111"/>
<rect x="420.85" y="363.18" width="3.8" height="3.8" fill="#111"/>
<circle cx="438.00" cy="365.08" r="2.0" fill="#111"/>
<rect x="436.10" y="363.18" width="3.8" height="3.8" fill="#111"/>
<circle cx="453.25" cy="365.08" r="2.0" fill="#111"/>
<rect x="451.35" y="363.18" width="3.8" height="3.8" fill="#111"/>
<circle cx="435" cy="279.3" r="2.0" fill="#fff" stroke="#111" stroke-width="0.9"/>
<circle cx="435.00" cy="292.00" r="2.0" fill="#111"/>
<rect x="433.00" y="302.60" width="4.0" height="4.0" fill="#111"/>
<text x="447.5" y="282.4" font-size="8.7" fill="#1a1a1a" stroke="#1a1a1a" textLength="66" lengthAdjust="spacingAndGlyphs">BJAB.Luc_vector</text>
<text x="447.5" y="295.1" font-size="8.7" fill="#1a1a1a" stroke="#1a1a1a" textLength="61.5" lengthAdjust="spacingAndGlyphs">BJAB.Luc_P-gp</text>
<text x="447.5" y="307.7" font-size="8.7" fill="#1a1a1a" stroke="#1a1a1a" textLength="51.5" lengthAdjust="spacingAndGlyphs">P-gp inhibitor</text>
</g>
</svg>
</body></html>
